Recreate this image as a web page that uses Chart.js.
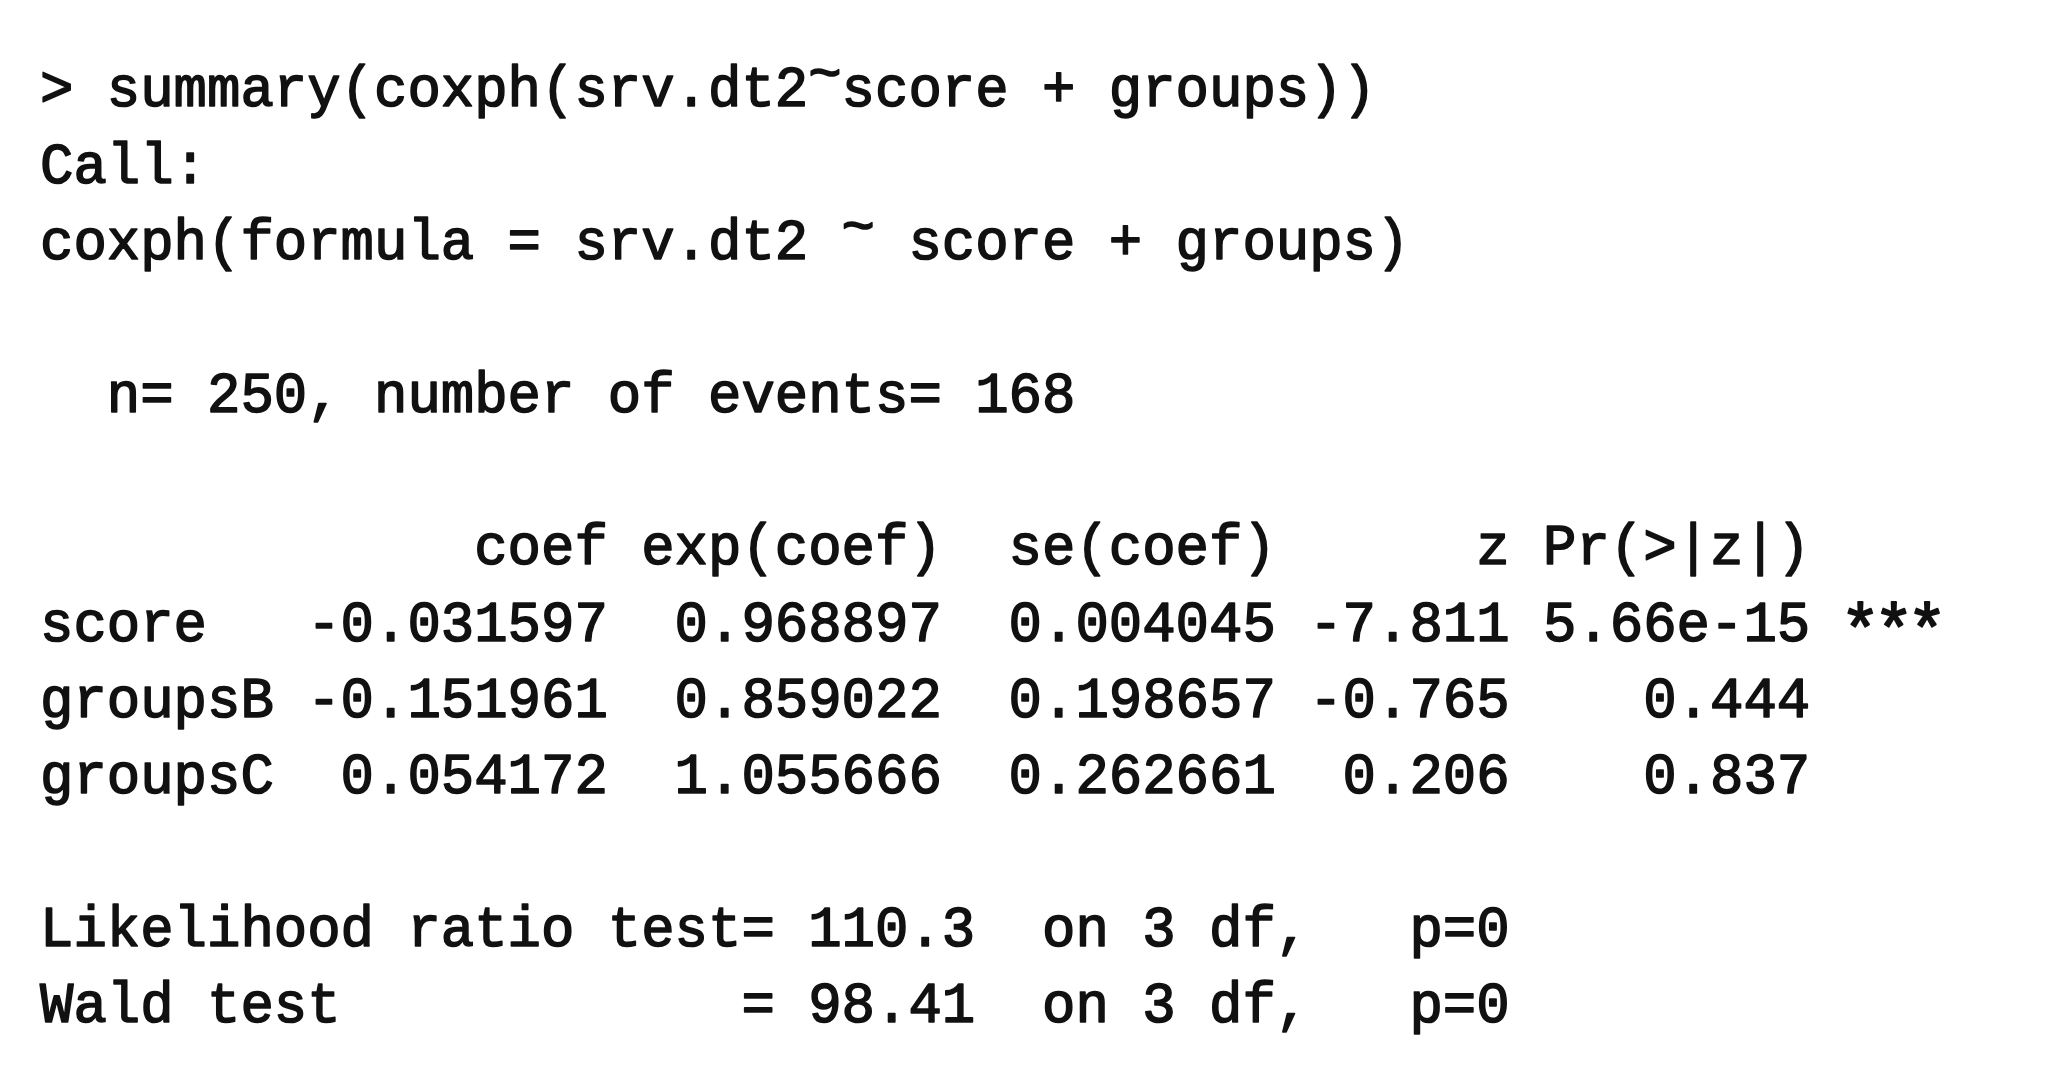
<!DOCTYPE html>
<html>
<head>
<meta charset="utf-8">
<title>coxph summary</title>
<script src="https://cdn.jsdelivr.net/npm/chart.js@4"></script>
<style>
    html, body { margin: 0; padding: 0; background: #ffffff; }
    #wrap { position: absolute; left: 0; top: 0; width: 2046px; height: 1083px; }
</style>
</head>
<body>
<div id="wrap"><canvas id="console"></canvas></div>
<script>
/* ------------------------------------------------------------
------------------------------------------------------------ */
const commandText = "summary(coxph(srv.dt2~score + groups))";
const callText = "coxph(formula = srv.dt2 ~ score + groups)";
const nObs = 250;
const nEvents = 168;

const columnHeaders = ["coef", "exp(coef)", "se(coef)", "z", "Pr(>|z|)"];
const columnWidths = [10, 10, 10, 7, 9];

const termNames = ["score", "groupsB", "groupsC"];
const coefValues = [-0.031597, -0.151961, 0.054172];
const expCoefValues = [0.968897, 0.859022, 1.055666];
const seCoefValues = [0.004045, 0.198657, 0.262661];
const zValues = [-7.811, -0.765, 0.206];
const pValues = [5.66e-15, 0.444, 0.837];
const signifCodes = ["***", "", ""];

const testNames = ["Likelihood ratio test", "Wald test"];
const testStats = ["110.3", "98.41"];
const testDf = [3, 3];
const testP = [0, 0];

/* ------------------------------------------------------------
   Construction des lignes de texte (comme print.summary.coxph)
------------------------------------------------------------ */
function formatP(p) {
    return p < 0.001 ? p.toExponential(2) : p.toFixed(3);
}

function buildLines() {
    const lines = [];
    lines.push("> " + commandText);
    lines.push("Call:");
    lines.push(callText);
    lines.push("");
    lines.push("  n= " + nObs + ", number of events= " + nEvents + " ");
    lines.push("");

    let header = "".padEnd(7);
    columnHeaders.forEach((h, i) => { header += h.padStart(columnWidths[i]); });
    lines.push(header);

    termNames.forEach((name, i) => {
        let row = name.padEnd(7);
        row += coefValues[i].toFixed(6).padStart(columnWidths[0]);
        row += expCoefValues[i].toFixed(6).padStart(columnWidths[1]);
        row += seCoefValues[i].toFixed(6).padStart(columnWidths[2]);
        row += zValues[i].toFixed(3).padStart(columnWidths[3]);
        row += formatP(pValues[i]).padStart(columnWidths[4]);
        if (signifCodes[i]) row += " " + signifCodes[i];
        lines.push(row);
    });
    lines.push("");

    testNames.forEach((name, i) => {
        lines.push(name.padEnd(21) + "= " + testStats[i].padStart(5) +
            "  on " + testDf[i] + " df,   p=" + testP[i]);
    });
    return lines;
}

const consoleLines = buildLines();

/* ------------------------------------------------------------
   Plugin : dessine chaque caractère dans sa colonne
------------------------------------------------------------ */
const consoleTextPlugin = {
    id: "consoleText",
    afterDatasetsDraw(chart) {
        const ctx = chart.ctx;
        const xScale = chart.scales.x;
        const meta = chart.getDatasetMeta(0);
        ctx.save();
        ctx.fillStyle = "#111111";
        ctx.strokeStyle = "#111111";
        ctx.lineWidth = 1.6;
        ctx.lineJoin = "round";
        ctx.font = "58px 'Liberation Mono', monospace";
        ctx.textAlign = "center";
        ctx.textBaseline = "alphabetic";
        meta.data.forEach((el, i) => {
            const raw = chart.data.datasets[0].data[i];
            const text = raw.text;
            for (let k = 0; k < text.length; k++) {
                const ch = text[k];
                if (ch === " ") continue;
                const cx = xScale.getPixelForValue(raw.x + k + 0.5);
                // le tilde est surélevé et les astérisques centrés (police TeX)
                let dy = 0, sz = 1;
                if (ch === "~") dy = -14;
                if (ch === "*") { dy = 12; sz = 1.2; }
                ctx.save();
                ctx.translate(cx, el.y + dy);
                ctx.scale(0.96 * sz, sz);
                ctx.fillText(ch, 0, 0);
                ctx.strokeText(ch, 0, 0);
                ctx.restore();
            }
        });
        ctx.restore();
    }
};

/* ------------------------------------------------------------
   Graphique : une colonne = un caractère, une ligne = une ligne
------------------------------------------------------------ */
document.addEventListener("DOMContentLoaded", () => {
    const ctx = document.getElementById("console");

    new Chart(ctx, {
        type: "scatter",
        data: {
            datasets: [{
                data: consoleLines.map((t, i) => ({ x: 0, y: i, text: t })),
                pointRadius: 0,
                pointHoverRadius: 0
            }]
        },
        options: {
            responsive: true,
            maintainAspectRatio: false,
            animation: false,
            events: [],
            layout: { padding: 0 },
            plugins: {
                legend: { display: false },
                tooltip: { enabled: false }
            },
            scales: {
                x: { type: "linear", display: false, min: -1.1976, max: 60.06 },
                y: { type: "linear", display: false, reverse: true, min: -1.391, max: 12.794 }
            }
        },
        plugins: [consoleTextPlugin]
    });
});
</script>
</body>
</html>
